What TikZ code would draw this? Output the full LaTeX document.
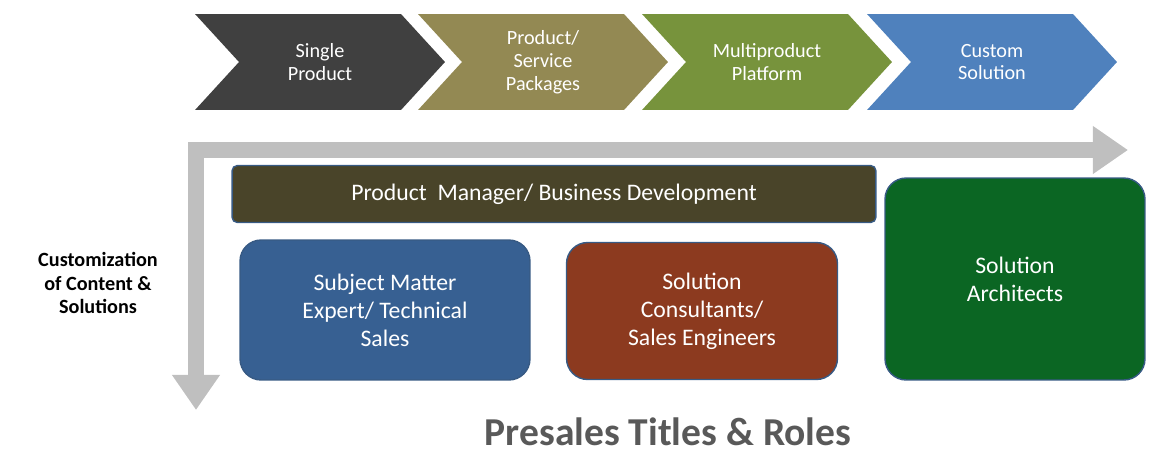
\documentclass[tikz,border=0pt]{standalone}
\usepackage{fontspec}
\setmainfont{Carlito}
\usetikzlibrary{shapes.symbols,arrows.meta}
\definecolor{stepgray}{HTML}{404040}
\definecolor{stepolive}{HTML}{938953}
\definecolor{stepgreen}{HTML}{77933C}
\definecolor{stepblue}{HTML}{4F81BD}
\definecolor{pmolive}{HTML}{494429}
\definecolor{smeblue}{HTML}{376092}
\definecolor{scred}{HTML}{8C3A1F}
\definecolor{sagreen}{HTML}{0B6623}
\definecolor{axisgray}{HTML}{BFBFBF}
\definecolor{titlegray}{HTML}{595959}
\begin{document}
\begin{tikzpicture}
  [
  x=0.02cm, y=-0.02cm, font=\fontsize{11.5}{13}\selectfont,
  stage/.style={signal, signal to=east, signal from=west, signal pointer angle=95,
    minimum width=5cm, minimum height=1.92cm, inner sep=0pt, text=white, align=center},
  rolebox/.style={rounded corners=12pt, draw=stepblue!70!black, line width=0.8pt,
    text=white, align=center, font=\fontsize{13.5}{16}\selectfont}
  ]
\useasboundingbox (0,0) rectangle (1154,458);

\node[stage, fill=stepgray] (s1) at (320,62) {Single\\Product};
\node[stage, fill=stepolive] (s2) at (543,62) {Product/\\Service\\Packages};
\node[stage, fill=stepgreen] (s3) at (767,62) {Multiproduct\\Platform};
\node[stage, fill=stepblue] (s4) at (992,62) {Custom\\Solution};

% axes
\coordinate (corner) at (196,150);
\coordinate (xend) at (1128,150);
\coordinate (yend) at (196,410);
\draw[axisgray, line width=9pt, -{Triangle[length=20pt,width=26pt]}] (corner) -- (xend);
\draw[axisgray, line width=9pt, -{Triangle[length=20pt,width=26pt]}] ([yshift=4.5pt]corner) -- (yend);

\node[rolebox, fill=pmolive, rounded corners=3pt, minimum width=12.88cm, minimum height=1.14cm]
  (pm) at (554,194) {Product\ \ Manager/ Business Development};
\node[rolebox, fill=smeblue, minimum width=5.8cm, minimum height=2.8cm]
  (sme) at (385,310) {Subject Matter\\Expert/ Technical\\Sales};
\node[rolebox, fill=scred, minimum width=5.42cm, minimum height=2.74cm]
  (sc) at (702,311) {Solution\\Consultants/\\Sales Engineers};
\node[rolebox, fill=sagreen, minimum width=5.2cm, minimum height=4.04cm]
  (sa) at (1015,279) {Solution\\Architects};

\node[font=\fontsize{11.5}{13.5}\selectfont\bfseries, align=center] (cust) at (98,283)
  {Customization\\of Content \&\\Solutions};
\node[font=\fontsize{22.5}{26}\selectfont\bfseries, text=titlegray] (title) at (668,432)
  {Presales Titles \& Roles};
\end{tikzpicture}
\end{document}
